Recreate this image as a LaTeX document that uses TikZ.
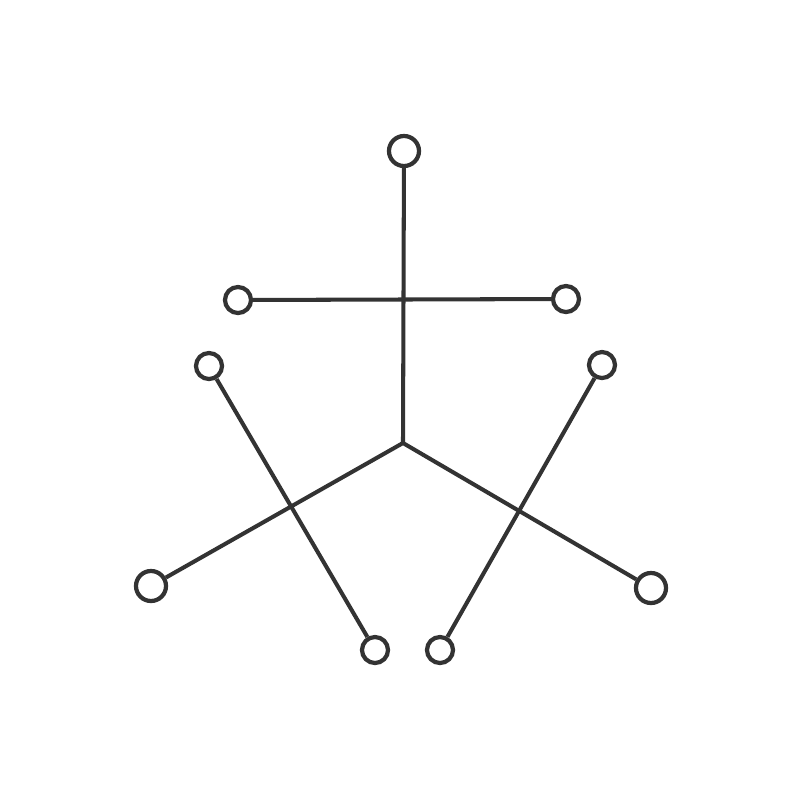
\documentclass[tikz,border=0pt]{standalone}
\usepackage{tikz}

\begin{document}
\begin{tikzpicture}[x=0.01cm,y=-0.01cm,
  atom/.style={draw=bond,line width=1.2pt,shape=circle,minimum size=0.26cm,inner sep=0pt},
  big/.style={minimum size=0.30cm},
  bnd/.style={draw=bond,line width=1.15pt}]
\definecolor{bond}{HTML}{333333}
\useasboundingbox (0,0) rectangle (800,802);
\path (404,151) node[atom,big] (T) {};
\path (238,300) node[atom] (L) {};
\path (566,299) node[atom] (R) {};
\path (209,366) node[atom] (UL) {};
\path (602,365) node[atom] (UR) {};
\path (151,586) node[atom,big] (BL) {};
\path (651,588) node[atom,big] (BR) {};
\path (375,650) node[atom] (IL) {};
\path (440,650) node[atom] (IR) {};
\coordinate (C) at (403,443);

\draw[bnd] (T) to (C);
\draw[bnd] (L) to (R);
\draw[bnd] (BL) -- (C) -- (BR);
\draw[bnd] (UL) to (IL);
\draw[bnd] (UR) to (IR);
\end{tikzpicture}
\end{document}
